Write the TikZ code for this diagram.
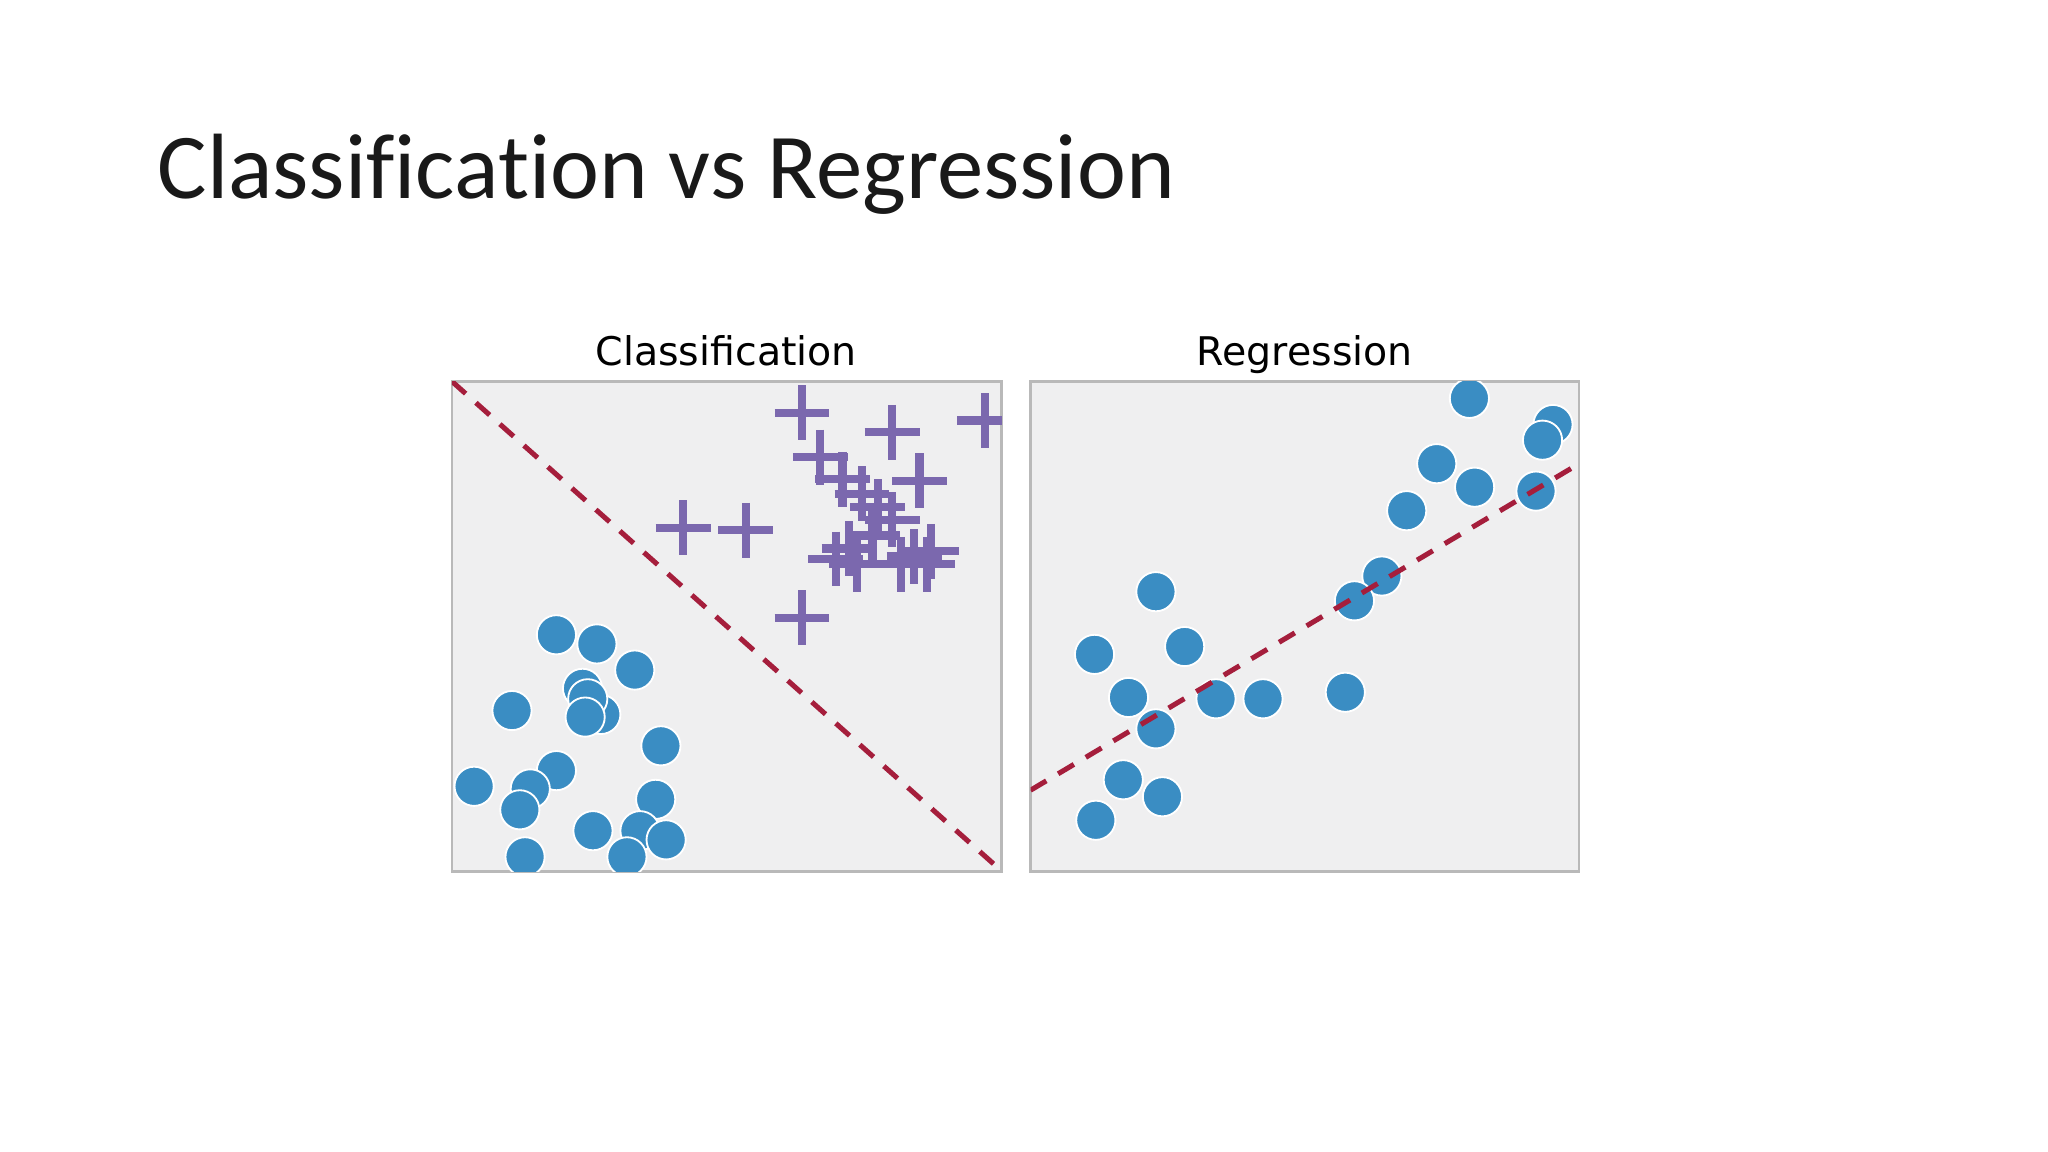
\documentclass[tikz,border=0pt]{standalone}
\usepackage{fontspec}
\setmainfont[Ligatures={NoCommon,NoRare,NoContextual}]{Carlito}
\newfontfamily\subfont{DejaVu Sans}
\definecolor{dot}{HTML}{3A8DC3}
\definecolor{plusc}{HTML}{7B68AE}
\definecolor{dred}{HTML}{A51E3C}
\definecolor{panel}{HTML}{EFEFF0}
\tikzset{dotn/.style={circle,fill=dot,draw=white,line width=0.4pt,minimum size=3mm,inner sep=0},
 dline/.style={dred,line width=1.1pt,dash pattern=on 4pt off 3pt},
 panelbox/.style={fill=panel,draw=gray!55,line width=0.6pt},
 sub/.style={anchor=base,font=\subfont\fontsize{8.6}{10}\selectfont}}
\begin{document}
\begin{tikzpicture}[x=0.1mm,y=-0.1mm]
\useasboundingbox[fill=white] (0,0) rectangle (1568,882);
\node[anchor=base west,inner sep=0,font=\fontsize{20.2}{24}\selectfont,text=black!90] (title) at (120,152) {Classification vs Regression};
\node[sub] (t1) at (556,280) {Classification};
\node[sub] (t2) at (999,280) {Regression};
% left panel
\draw[panelbox] (346,292) rectangle (767,667);
\begin{scope}
\clip (346,292) rectangle (767,667);
\foreach \x/\y in {426/486,457/493,486/513,392/544,446/527,460/547,450/535,448/549,506/571,363/602,426/590,406/604,398/620,502/612,454/636,490/636,510/643,402/656,480/656}
  \node[dotn] at (\x,\y) {};
\foreach \x/\y in {614/316,683/331,754/322,628/350,645/367,704/368,660/378,672/388,683/398,523/404,571/406,668/410,640/428,656/432,690/432,710/432,713/422,614/473,650/420,700/426}
  \draw[plusc,line width=1.8pt] (\x-21,\y) -- (\x+21,\y) (\x,\y-21) -- (\x,\y+21);
\coordinate (la) at (346,292); \coordinate (lb) at (767,667);
\draw[dline] (la) -- (lb);
\end{scope}
% right panel
\draw[panelbox] (789,292) rectangle (1209,667);
\begin{scope}
\clip (789,292) rectangle (1209,667);
\coordinate (ra) at (789,605); \coordinate (rb) at (1209,355);
\foreach \x/\y in {1125/305,1189/325,1181/337,1100/355,1129/373,1176/376,1077/391,1058/441,1037/460,885/453,838/501,907/495,864/534,931/535,967/535,1030/530,885/558,860/597,890/610,839/628}
  \node[dotn] at (\x,\y) {};
\draw[dline] (ra) -- (rb);
\end{scope}
\end{tikzpicture}
\end{document}
